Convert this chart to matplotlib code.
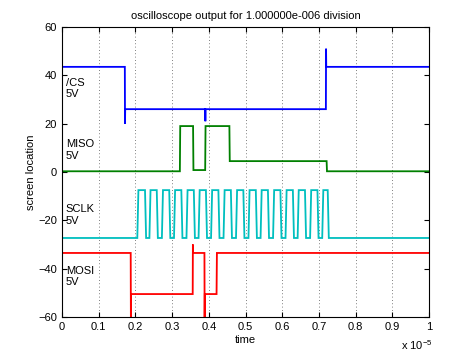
import numpy as np
import matplotlib
matplotlib.use('Agg')
import matplotlib.pyplot as plt

plt.rcParams.update({
    'font.family': 'Liberation Sans',
    'font.size': 8,
    'mathtext.default': 'regular',
    'xtick.direction': 'in',
    'ytick.direction': 'in',
    'xtick.top': True,
    'ytick.right': True,
    'xtick.major.size': 3.5,
    'ytick.major.size': 3.5,
    'axes.linewidth': 0.8,
})

# time axis in units of 1e-5 s; levels in screen units
cs_edges = [0.171, 0.390, 0.719]
cs_levels = [43.5, 26.0, 26.0, 43.5]
cs_peaks = [20.0, 21.0, 51.0]

miso_edges = [0.321, 0.357, 0.390, 0.456, 0.721]
miso_levels = [0.3, 19.0, 0.8, 19.0, 4.5, 0.3]
miso_peaks = [None, None, None, None, None]

sclk_edges = [0.205, 0.226, 0.238, 0.258, 0.272, 0.292, 0.305, 0.325,
              0.339, 0.359, 0.372, 0.392, 0.406, 0.426, 0.440, 0.460,
              0.474, 0.494, 0.508, 0.528, 0.541, 0.561, 0.575, 0.595,
              0.609, 0.629, 0.642, 0.662, 0.676, 0.696, 0.709, 0.724]
sclk_low, sclk_high = -27.3, -7.5
sclk_levels = [sclk_low if i % 2 == 0 else sclk_high for i in range(len(sclk_edges) + 1)]
sclk_peaks = [None] * len(sclk_edges)

mosi_edges = [0.187, 0.356, 0.388, 0.421]
mosi_levels = [-33.5, -50.5, -33.5, -50.5, -33.5]
mosi_peaks = [-61.0, -30.0, -61.0, None]

labels = ['/CS\n5V', 'MISO\n5V', 'SCLK\n5V', 'MOSI\n5V']
label_y = [34.6, 9.1, -17.8, -43.3]


def step_trace(edges, levels, peaks, rise):
    x = [0.0]
    y = [levels[0]]
    for i, t in enumerate(edges):
        x.append(t)
        y.append(levels[i])
        if peaks[i] is not None:
            x.append(t + rise / 2)
            y.append(peaks[i])
        x.append(t + rise)
        y.append(levels[i + 1])
    x.append(1.0)
    y.append(levels[-1])
    return np.array(x), np.array(y)


fig = plt.figure(figsize=(4.74, 3.55), dpi=100)
ax = fig.add_axes([0.131, 0.107, 0.774, 0.817])

traces = [
    (cs_edges, cs_levels, cs_peaks, 0.001, (0, 0, 1)),
    (miso_edges, miso_levels, miso_peaks, 0.001, (0, 0.5, 0)),
    (sclk_edges, sclk_levels, sclk_peaks, 0.003, (0, 0.75, 0.75)),
    (mosi_edges, mosi_levels, mosi_peaks, 0.001, (1, 0, 0)),
]
for edges, levels, peaks, rise, color in traces:
    x, y = step_trace(edges, levels, peaks, rise)
    ax.plot(x, y, color=color, linewidth=1.3, solid_joinstyle='miter')

for text, yy in zip(labels, label_y):
    ax.text(0.01, yy, text, ha='left', va='center', linespacing=1.2)

ax.set_xlim(0, 1)
ax.set_ylim(-60, 60)
ax.set_xticks(np.arange(0, 1.01, 0.1))
ax.set_xticklabels(['0', '0.1', '0.2', '0.3', '0.4', '0.5', '0.6', '0.7', '0.8', '0.9', '1'])
ax.set_yticks([-60, -40, -20, 0, 20, 40, 60])
ax.xaxis.grid(True, linestyle=(0, (1, 3)), color='#555555', linewidth=0.6)
ax.set_axisbelow(True)

ax.set_title('oscilloscope output for 1.000000e-006 division', fontsize=8, pad=6)
ax.set_xlabel('time', labelpad=2)
ax.set_ylabel('screen location', labelpad=2)
fig.text(0.846, 0.013, r'x 10$^{-5}$', ha='left', va='baseline')

fig.savefig('out.png', dpi=100, facecolor='white')
